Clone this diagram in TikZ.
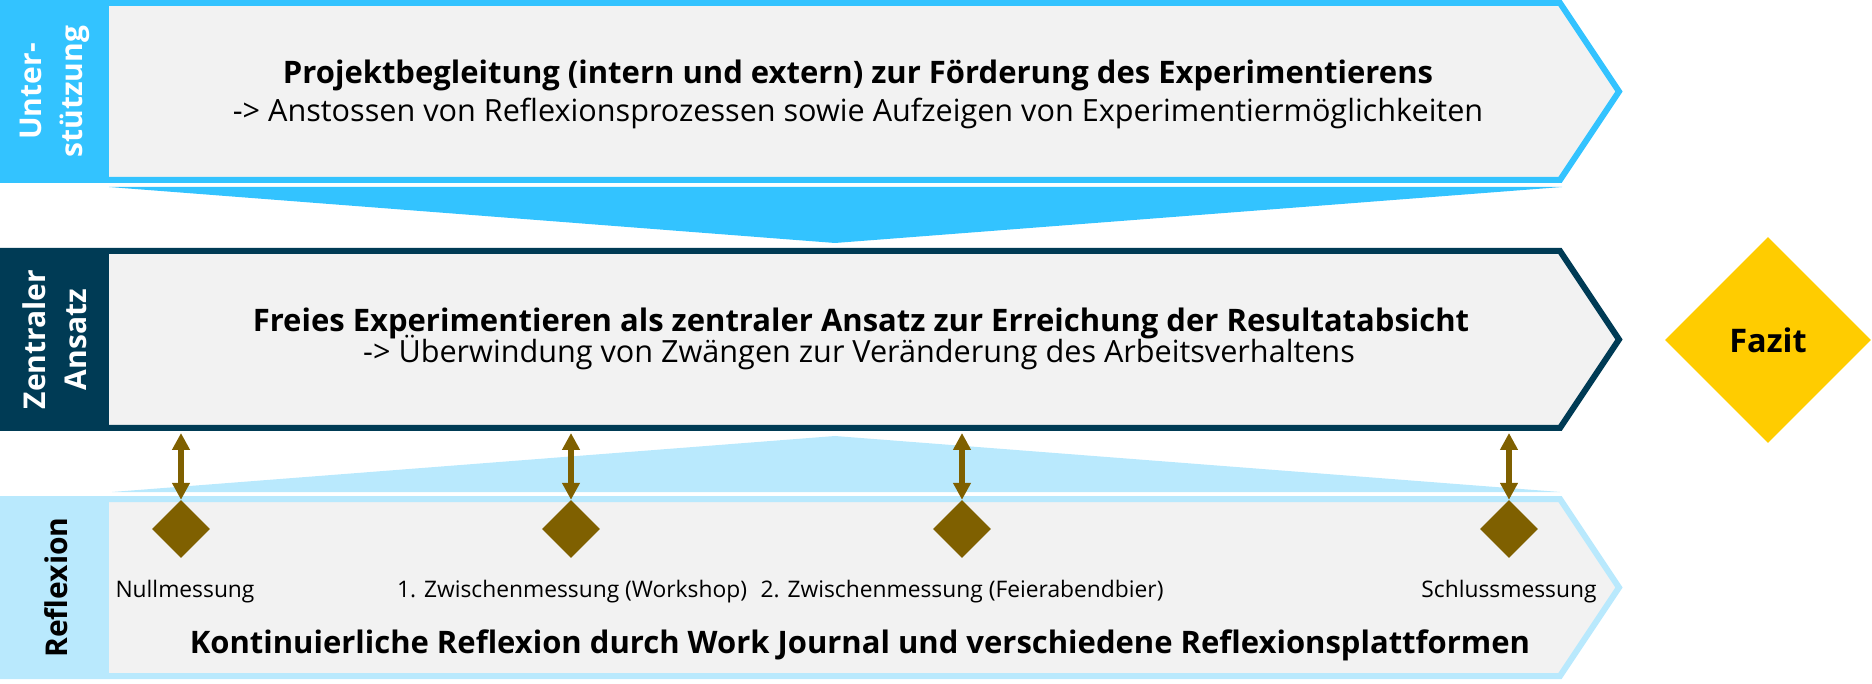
\documentclass[tikz,border=0pt]{standalone}
\usepackage{fontspec}
\setmainfont{Open Sans}
\usetikzlibrary{shapes.geometric,arrows.meta}

\definecolor{hellblau}{RGB}{51,195,255}
\definecolor{dunkelblau}{RGB}{0,59,85}
\definecolor{blassblau}{RGB}{185,233,253}
\definecolor{hellgrau}{RGB}{242,242,242}
\definecolor{oliv}{RGB}{127,96,0}
\definecolor{gelb}{RGB}{255,204,0}

\begin{document}
\begin{tikzpicture}[
          x=1pt, y=-1pt,
          band/.style={
            fill=hellgrau,
            line width=6pt,
            line join=miter,
          },
          seite/.style={
            rotate=90,
            align=center,
            font=\fontsize{30}{41}\selectfont\bfseries,
          },
          titel/.style={
            anchor=base,
            font=\fontsize{31}{36}\selectfont\bfseries,
          },
          zusatz/.style={
            anchor=base,
            font=\fontsize{30.6}{36}\selectfont,
          },
          messung/.style={
            diamond,
            fill=oliv,
            inner sep=0pt,
            minimum size=58pt,
          },
          marke/.style={
            anchor=base,
            font=\fontsize{22.8}{27}\selectfont,
          },
          pfeil/.style={
            {Triangle[width=17pt,length=17pt]}-{Triangle[width=17pt,length=17pt]},
            line width=6pt,
            draw=oliv,
          },
        ]
          \useasboundingbox (0,0) rectangle (1872,684);

          % Unterstuetzung
          \draw[band, draw=hellblau] (3,3) -- (1560,3) -- (1619,91.5) -- (1560,180) -- (3,180) -- cycle;
          \fill[hellblau] (0,0) rectangle (109,183);
          \fill[hellblau] (109,187) -- (1562,187) -- (835,243) -- cycle;
          \node[seite, text=white] (unterstuetzung) at (54.5,91.5) {Unter-\\stützung};
          \node[titel] (ut1) at (858,84) {Projektbegleitung (intern und extern) zur Förderung des Experimentierens};
          \node[zusatz] (ut2) at (858,122) {-> Anstossen von Reflexionsprozessen sowie Aufzeigen von Experimentiermöglichkeiten};

          % zentraler Ansatz
          \draw[band, draw=dunkelblau] (3,251) -- (1560,251) -- (1619,339.5) -- (1560,428) -- (3,428) -- cycle;
          \fill[dunkelblau] (0,248) rectangle (109,431);
          \node[seite, text=white] (zentral) at (54.5,339.5) {Zentraler\\Ansatz};
          \node[titel] (za1) at (861,332) {Freies Experimentieren als zentraler Ansatz zur Erreichung der Resultatabsicht};
          \node[zusatz] (za2) at (859,363) {-> Überwindung von Zwängen zur Veränderung des Arbeitsverhaltens};

          % Reflexion
          \fill[blassblau] (112,492) -- (1560,492) -- (835,436) -- cycle;
          \draw[band, draw=blassblau] (3,499) -- (1560,499) -- (1619,587.5) -- (1560,676) -- (3,676) -- cycle;
          \fill[blassblau] (0,496) rectangle (109,679);
          \node[seite] (reflexion) at (56,587.5) {Reflexion};
          \node[titel] (rf1) at (860,653) {Kontinuierliche Reflexion durch Work Journal und verschiedene Reflexionsplattformen};

          % Fazit
          \node[diamond, fill=gelb, inner sep=0pt, minimum size=206pt,
                font=\fontsize{32.5}{38}\selectfont\bfseries] (fazit) at (1768,340) {Fazit};

          % Messungen
          \node[messung] (m1) at (181,529) {};
          \node[messung] (m2) at (571,529) {};
          \node[messung] (m3) at (962,529) {};
          \node[messung] (m4) at (1509,529) {};

          \node[marke] (l1) at (185,597) {Nullmessung};
          \node[marke] (l2) at (572,597) {1. Zwischenmessung (Workshop)};
          \node[marke] (l3) at (962,597) {2. Zwischenmessung (Feierabendbier)};
          \node[marke] (l4) at (1509,597) {Schlussmessung};

          \coordinate (a1) at (181,433);
          \coordinate (a2) at (571,433);
          \coordinate (a3) at (962,433);
          \coordinate (a4) at (1509,433);

          \draw[pfeil] (a1) -- (m1.north);
          \draw[pfeil] (a2) -- (m2.north);
          \draw[pfeil] (a3) -- (m3.north);
          \draw[pfeil] (a4) -- (m4.north);
        \end{tikzpicture}
\end{document}
